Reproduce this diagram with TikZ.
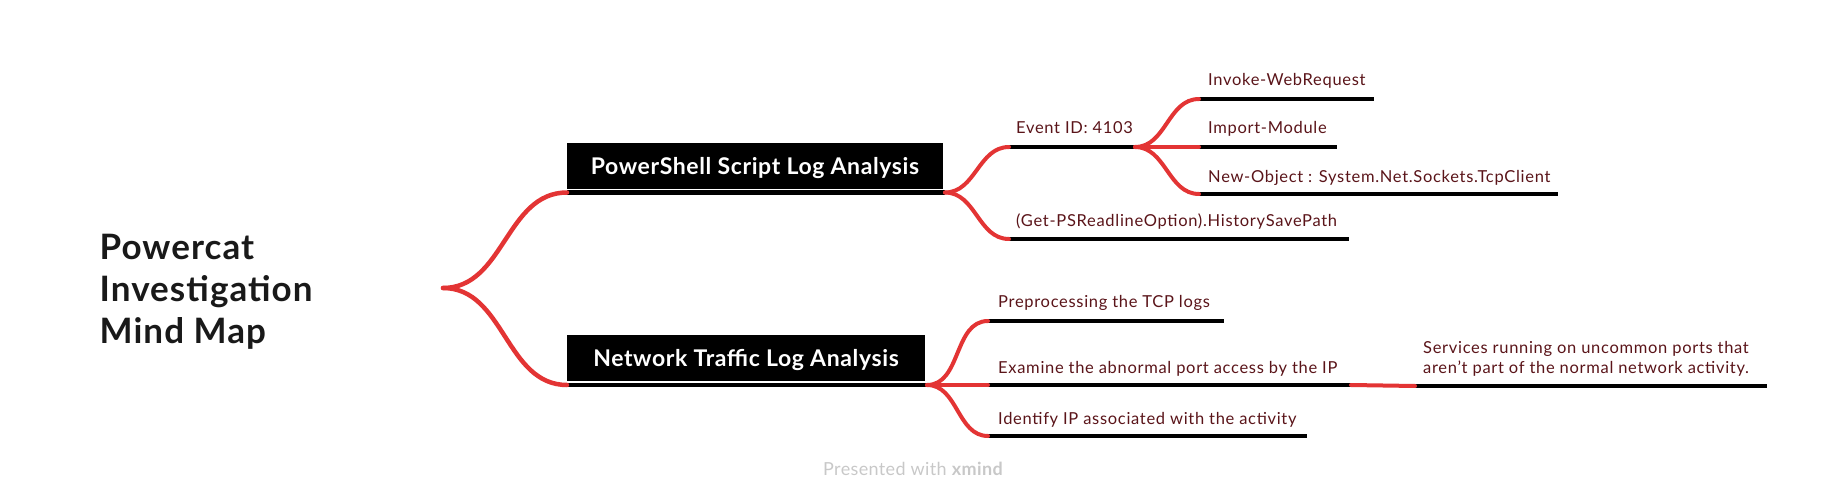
\documentclass[tikz,border=0pt]{standalone}
\usepackage{fontspec}
\setmainfont{Lato}
\newfontfamily\leaffont{Lato}[LetterSpace=4.2]
\newfontfamily\boxfont{Lato}[LetterSpace=2.7]
\newfontfamily\titlefont{Lato}[LetterSpace=3]
\newfontfamily\wmfont{Lato}[LetterSpace=2]
\definecolor{branchred}{HTML}{E33434}
\definecolor{leaftext}{HTML}{5A1419}
\definecolor{wmgrey}{HTML}{C8C8C8}
\begin{document}
\begin{tikzpicture}[x=1pt,y=-1pt,
  branch/.style={draw=branchred, line width=4pt, line cap=round},
  rootbranch/.style={branch, line width=4.5pt},
  uline/.style={draw=black, line width=3.5pt},
  mainline/.style={draw=black, line width=4.5pt},
  leaf/.style={anchor=base west, inner sep=0pt, text=leaftext, font=\fontsize{16.5}{20}\leaffont},
  mainbox/.style={fill=black, text=white, inner sep=0pt, text height=16.5pt, text depth=0pt,
    minimum height=46pt, font=\fontsize{23}{26}\boxfont\bfseries},
  titlenode/.style={anchor=north west, inner sep=0pt, align=left, text=black!90,
    font=\fontsize{35}{42}\titlefont\bfseries},
  curve/.style={out=0, in=180}]
\useasboundingbox (0,0) rectangle (1830,500);

% root
\node[titlenode] (root) at (99.5,234) {Powercat\\Investigation\\Mind Map};
\coordinate (rootR) at (443,288);

% main topics
\node[mainbox, minimum width=376pt] (ps) at (755,166) {PowerShell Script Log Analysis};
\coordinate (psL) at (567,192.5);
\coordinate (psR) at (945,192.5);
\node[mainbox, minimum width=358pt] (nt) at (746,358) {Network Traffic Log Analysis};
\coordinate (ntL) at (567,385);
\coordinate (ntR) at (927,385);
\draw[mainline] (psL) -- (psR);
\draw[mainline] (ntL) -- (ntR);

% PowerShell subtopics
\node[leaf] (ev) at (1016,134) {Event ID: 4103};
\coordinate (evL) at (1009,147); \coordinate (evR) at (1135,147);
\node[leaf] (hs) at (1016,226) {(Get-PSReadlineOption).HistorySavePath};
\coordinate (hsL) at (1009,239); \coordinate (hsR) at (1349,239);

\node[leaf] (iw) at (1208,86) {Invoke-WebRequest};
\coordinate (iwL) at (1199,99); \coordinate (iwR) at (1374,99);
\node[leaf] (im) at (1208,134) {Import-Module};
\coordinate (imL) at (1199,147); \coordinate (imR) at (1337,147);
\node[leaf] (no) at (1208,182) {New-Object : System.Net.Sockets.TcpClient};
\coordinate (noL) at (1199,194); \coordinate (noR) at (1558,194);

% Network subtopics
\node[leaf] (pp) at (998,307) {Preprocessing the TCP logs};
\coordinate (ppL) at (988,321); \coordinate (ppR) at (1224,321);
\node[leaf] (ex) at (998,373) {Examine the abnormal port access by the IP};
\coordinate (exL) at (988,385); \coordinate (exR) at (1351,385);
\node[leaf] (id) at (998,424) {Identify IP associated with the activity};
\coordinate (idL) at (988,436); \coordinate (idR) at (1307,436);
\node[leaf, anchor=north west, align=left] (sv) at (1423,341) {Services running on uncommon ports that\\aren’t part of the normal network activity.};
\coordinate (svL) at (1415,386); \coordinate (svR) at (1767,386);

% underlines
\foreach \n in {ev,hs,iw,im,no,pp,ex,id,sv}{\draw[uline] (\n L) -- (\n R);}

% connectors
\draw[rootbranch] (rootR) to[curve] (psL);
\draw[rootbranch] (rootR) to[curve] (ntL);
\draw[branch] (psR) to[curve] (evL);
\draw[branch] (psR) to[curve] (hsL);
\draw[branch] (evR) to[curve] (iwL);
\draw[branch] (evR) to[curve] (imL);
\draw[branch] (evR) to[curve] (noL);
\draw[branch] (ntR) to[curve] (ppL);
\draw[branch] (ntR) to[curve] (exL);
\draw[branch] (ntR) to[curve] (idL);
\draw[branch] (exR) -- (svL);

% watermark
\node[anchor=base west, inner sep=0pt, text=wmgrey, font=\fontsize{18}{20}\wmfont] (wm) at (823,475) {Presented with \textbf{xmind}};
\end{tikzpicture}
\end{document}
